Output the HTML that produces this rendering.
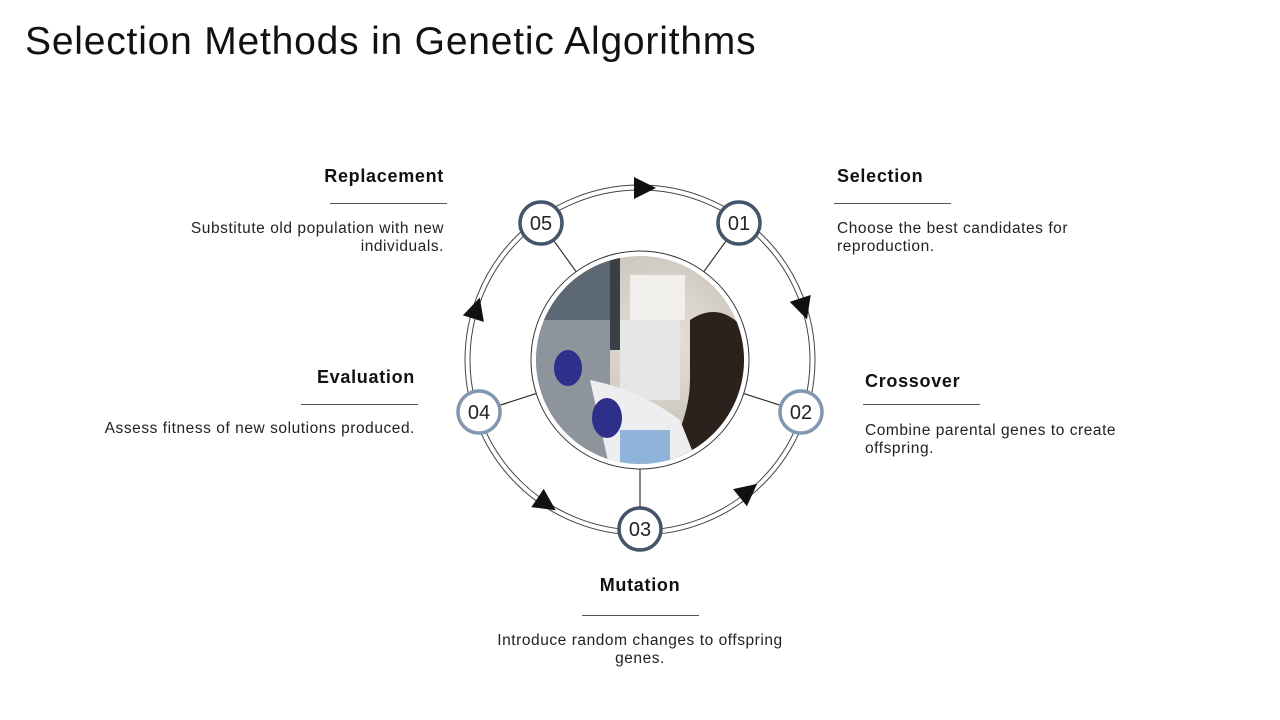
<!DOCTYPE html>
<html><head><style>
body{margin:0;width:1280px;height:720px;background:#fff;font-family:"Liberation Sans",sans-serif;position:relative;overflow:hidden;color:#111}
.t{position:absolute;left:25px;top:20px;font-size:39px;letter-spacing:0.8px;color:#111}
.h{position:absolute;font-size:18px;font-weight:bold;letter-spacing:0.7px}
.p{position:absolute;font-size:15.5px;line-height:18px;color:#222;letter-spacing:0.55px;white-space:nowrap}
.l{position:absolute;height:1px;background:#555;width:117px}
</style></head><body>
<div class="t">Selection Methods in Genetic Algorithms</div>
<svg width="1280" height="720" style="position:absolute;left:0;top:0">
<defs><clipPath id="c"><circle cx="640" cy="360" r="104"/></clipPath>
<radialGradient id="g" cx="0.6" cy="0.4" r="0.7"><stop offset="0" stop-color="#e8e2d8"/><stop offset="1" stop-color="#b9b4ad"/></radialGradient></defs>
<circle cx="640" cy="360" r="175" fill="none" stroke="#444" stroke-width="1"/>
<circle cx="640" cy="360" r="170" fill="none" stroke="#444" stroke-width="1"/>
<g stroke="#333" stroke-width="1.2">
<line x1="640" y1="360" x2="739" y2="223"/><line x1="640" y1="360" x2="541" y2="223"/>
<line x1="640" y1="360" x2="801" y2="412"/><line x1="640" y1="360" x2="479" y2="412"/>
<line x1="640" y1="360" x2="640" y2="529"/></g>
<circle cx="640" cy="360" r="109" fill="#fff" stroke="#333" stroke-width="1"/>
<g clip-path="url(#c)">
<rect x="530" y="250" width="220" height="220" fill="url(#g)"/>
<rect x="530" y="250" width="80" height="220" fill="#8e949c"/>
<rect x="540" y="260" width="70" height="60" fill="#5d6875"/>
<rect x="610" y="250" width="10" height="100" fill="#3a3f45"/>
<rect x="630" y="275" width="55" height="45" fill="#f1efec"/>
<rect x="620" y="320" width="60" height="80" fill="#e6e6e4"/>
<path d="M690 320 Q720 300 745 330 L750 470 L660 470 Q690 420 690 380 Z" fill="#2b211d"/>
<path d="M590 380 Q640 390 680 420 L700 470 L610 470 Z" fill="#eeeef0"/>
<ellipse cx="568" cy="368" rx="14" ry="18" fill="#2d2f8a"/>
<ellipse cx="607" cy="418" rx="15" ry="20" fill="#2d2f8a"/>
<rect x="620" y="430" width="50" height="40" fill="#8fb3d9"/>
</g>
<g fill="#111">
<polygon points="-9,-11 13,0 -9,11" transform="translate(643,188) rotate(0)"/>
<polygon points="-9,-11 13,0 -9,11" transform="translate(803,307) rotate(72)"/>
<polygon points="-9,-11 13,0 -9,11" transform="translate(747,492) rotate(-39)"/>
<polygon points="-9,-11 13,0 -9,11" transform="translate(545,503) rotate(34)"/>
<polygon points="-9,-11 13,0 -9,11" transform="translate(476,310) rotate(-73)"/>
</g>
<g font-family="Liberation Sans,sans-serif" font-size="20" text-anchor="middle" fill="#222">
<circle cx="739" cy="223" r="21" fill="#fff" stroke="#44546a" stroke-width="3.5"/><text x="739" y="230">01</text>
<circle cx="541" cy="223" r="21" fill="#fff" stroke="#44546a" stroke-width="3.5"/><text x="541" y="230">05</text>
<circle cx="801" cy="412" r="21" fill="#fff" stroke="#8497b0" stroke-width="3.5"/><text x="801" y="419">02</text>
<circle cx="479" cy="412" r="21" fill="#fff" stroke="#8497b0" stroke-width="3.5"/><text x="479" y="419">04</text>
<circle cx="640" cy="529" r="21" fill="#fff" stroke="#44546a" stroke-width="3.5"/><text x="640" y="536">03</text>
</g>
</svg>
<div class="h" style="left:837px;top:166px">Selection</div>
<div class="l" style="left:834px;top:203px"></div>
<div class="p" style="left:837px;top:220px">Choose the best candidates for<br>reproduction.</div>
<div class="h" style="right:836px;top:166px">Replacement</div>
<div class="l" style="left:330px;top:203px"></div>
<div class="p" style="right:836px;top:220px;text-align:right">Substitute old population with new<br>individuals.</div>
<div class="h" style="left:865px;top:371px">Crossover</div>
<div class="l" style="left:863px;top:404px"></div>
<div class="p" style="left:865px;top:422px">Combine parental genes to create<br>offspring.</div>
<div class="h" style="right:865px;top:367px">Evaluation</div>
<div class="l" style="left:301px;top:404px"></div>
<div class="p" style="right:865px;top:420px;text-align:right">Assess fitness of new solutions produced.</div>
<div class="h" style="left:540px;width:200px;text-align:center;top:575px">Mutation</div>
<div class="l" style="left:582px;top:615px"></div>
<div class="p" style="left:440px;width:400px;text-align:center;top:632px">Introduce random changes to offspring<br>genes.</div>
</body></html>
